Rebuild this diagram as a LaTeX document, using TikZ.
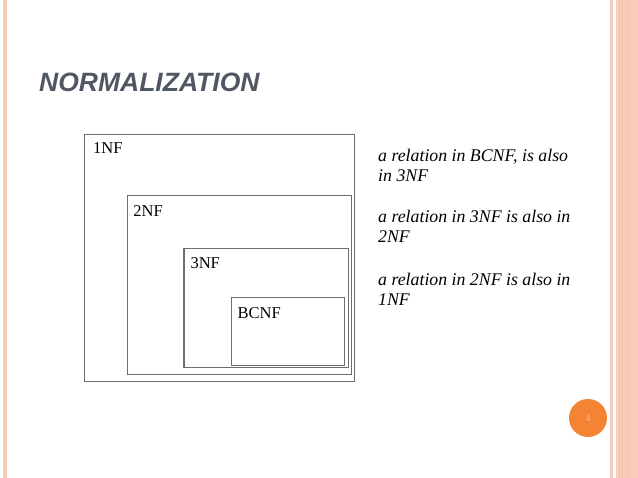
\documentclass[tikz,border=0pt]{standalone}
\usepackage{fontspec}
\setmainfont{Liberation Serif}
\newfontfamily\titlefont{Liberation Sans}
\usetikzlibrary{positioning}
\definecolor{peach}{RGB}{249,204,186}
\definecolor{peachdark}{RGB}{246,192,170}
\definecolor{slidegray}{RGB}{80,87,99}
\definecolor{boxgray}{RGB}{110,110,110}
\definecolor{badgeorange}{RGB}{245,131,52}
\definecolor{badgetext}{RGB}{248,186,140}
\tikzset{
  nfbox/.style={draw=boxgray, line width=1.2pt, rectangle, inner sep=0pt, anchor=north west},
  nflabel/.style={font=\fontsize{16.5}{19}\selectfont, anchor=base west, inner sep=0pt},
  note/.style={font=\fontsize{17.8}{19.8}\selectfont\itshape, align=left, anchor=north west, inner sep=0pt}
}
\begin{document}
\begin{tikzpicture}[x=1pt,y=-1pt]
\useasboundingbox (0,0) rectangle (638,478);

\fill[peach] (3,0) rectangle (7,478);
\fill[peach] (610,0) rectangle (613,478);
\fill[peach] (616,0) rectangle (638,478);
\draw[peachdark, line width=0.6pt] (619.5,0) -- (619.5,478);
\draw[peachdark, line width=0.6pt] (622.5,0) -- (622.5,478);
\draw[peachdark, line width=0.6pt] (627,0) -- (627,478);

\node[font=\titlefont\bfseries\itshape\fontsize{26.5}{30}\selectfont, text=slidegray,
      anchor=base west, inner sep=0pt] (title) at (39,92) {NORMALIZATION};

\node[nfbox, minimum width=270pt, minimum height=247pt] (onenf) at (84,134) {};
\node[nfbox, minimum width=224pt, minimum height=179.3pt] (twonf) at (126.7,194.7) {};
\node[nfbox, minimum width=164.4pt, minimum height=119.3pt] (threenf) at (183.3,248) {};
\node[nfbox, minimum width=112.7pt, minimum height=67.7pt] (bcnf) at (231,297.3) {};

\node[nflabel] (onelbl) at ([shift={(9,20)}]onenf.north west) {1NF};
\node[nflabel] (twolbl) at ([shift={(6.5,22)}]twonf.north west) {2NF};
\node[nflabel] (threelbl) at ([shift={(7,21)}]threenf.north west) {3NF};
\node[nflabel] (bclbl) at ([shift={(6.5,21.5)}]bcnf.north west) {BCNF};

\node[note] (notebc) at (378,149) {a relation in BCNF, is also\\in 3NF};
\node[note] (notethree) at (378,210) {a relation in 3NF is also in\\2NF};
\node[note] (notetwo) at (378,273) {a relation in 2NF is also in\\1NF};

\node[circle, fill=badgeorange, minimum size=38pt, inner sep=0pt, text=badgetext,
      font=\fontsize{10}{12}\selectfont] (page) at (588,418) {4};
\end{tikzpicture}
\end{document}
